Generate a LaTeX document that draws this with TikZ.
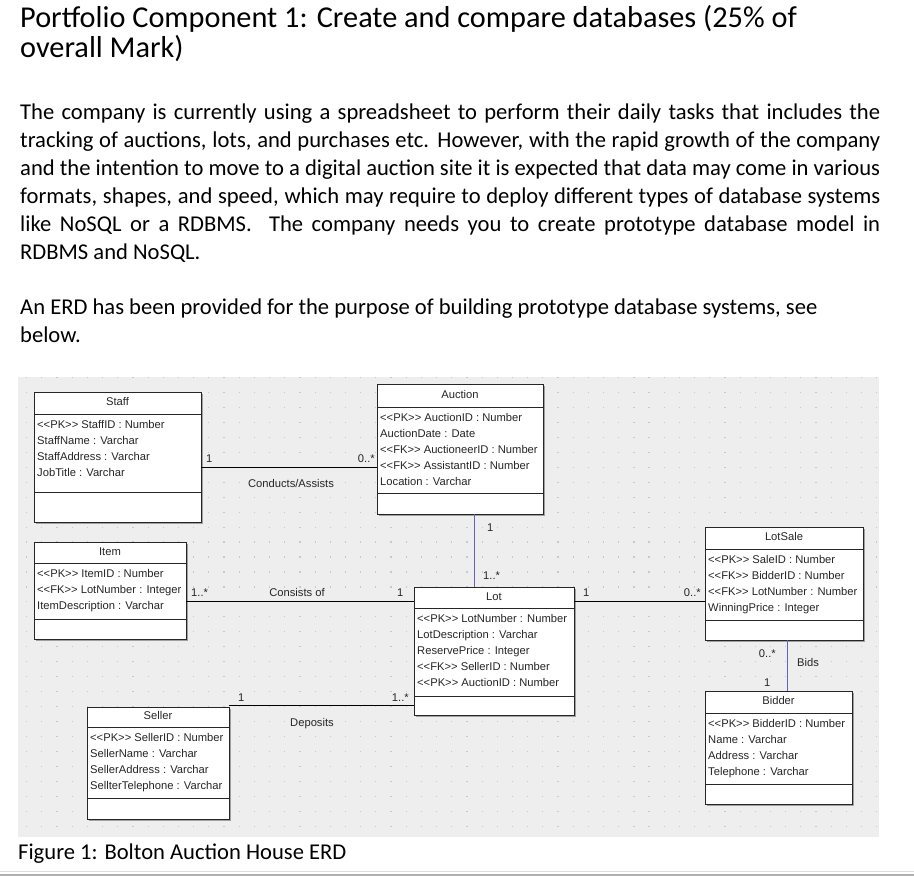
\documentclass[tikz,border=0pt]{standalone}
\usepackage{fontspec}
\setmainfont{Carlito}
\newfontfamily\erdfont{Liberation Sans}
\usetikzlibrary{calc}
\definecolor{bgc}{HTML}{EEEEEE}
\definecolor{dotc}{HTML}{C8C8C8}
\definecolor{linkc}{RGB}{100,100,190}
\definecolor{shadowc}{HTML}{A0A0A0}
\definecolor{rulelight}{HTML}{DCDCDC}
\definecolor{ruledark}{HTML}{B0B0B0}
\tikzset{
 entbox/.style={draw=black!85, fill=white, line width=0.9pt, inner sep=0pt, outer sep=0pt},
 entline/.style={draw=black!85, line width=0.9pt},
 enttext/.style={font=\erdfont\fontsize{11.2}{13}\selectfont, inner sep=0pt, text=black!85},
 conn/.style={draw=black, line width=0.9pt},
 vconn/.style={draw=linkc, line width=0.9pt},
 lbl/.style={font=\erdfont\fontsize{11.2}{13}\selectfont, inner sep=0pt, text=black!85},
 doctext/.style={inner sep=0pt, anchor=base west, font=\fontsize{22.6}{28}\selectfont},
 titletext/.style={inner sep=0pt, anchor=base west, font=\fontsize{30.3}{34}\selectfont},
}
% #1 name, #2 x left, #3 y top, #4 x right, #5 y header bottom, #6 y attr bottom, #7 y bottom, #8 title, #9 attributes
\newcommand\erdentity[9]{%
 \fill[shadowc] (#2+1.5,#3+1.5) rectangle (#4+1.5,#7+1.5);
 \node[entbox, minimum width=#4-#2, minimum height=#7-#3, anchor=north west] (#1) at (#2,#3) {};
 \draw[entline] (#2,#5) -- (#4,#5);
 \draw[entline] (#2,#6) -- (#4,#6);
 \node[enttext, anchor=base] (#1-t) at ({(#2+#4)/2},{(#3+#5)/2+2.5}) {#8};
 \foreach \a [count=\i] in {#9} {\node[enttext, anchor=base west] (#1-a\i) at (#2+3, #5+14+16*\i-16) {\a};}
}
\begin{document}
\begin{tikzpicture}[x=1pt,y=-1pt]
\useasboundingbox[fill=white] (0,0) rectangle (914,876);
% title
\node[titletext] (title1) at (20,27) {Portfolio Component 1: Create and compare databases (25\% of};
\node[titletext] (title2) at (20,57) {overall Mark)};
% body
\node[doctext] (p1) at (20,119) {\makebox[860pt][s]{The company is currently using a spreadsheet to perform their daily tasks that includes the}};
\node[doctext] (p2) at (20,147) {\makebox[860pt][s]{tracking of auctions, lots, and purchases etc. However, with the rapid growth of the company}};
\node[doctext] (p3) at (20,175) {\makebox[860pt][s]{and the intention to move to a digital auction site it is expected that data may come in various}};
\node[doctext] (p4) at (20,203) {\makebox[860pt][s]{formats, shapes, and speed, which may require to deploy different types of database systems}};
\node[doctext] (p5) at (20,231) {\makebox[860pt][s]{like NoSQL or a RDBMS.\ \ The company needs you to create prototype database model in}};
\node[doctext] (p6) at (20,259) {RDBMS and NoSQL.};
\node[doctext] (q1) at (20,314) {An ERD has been provided for the purpose of building prototype database systems, see};
\node[doctext] (q2) at (20,342) {below.};
% diagram background
\fill[bgc] (18,377) rectangle (879,837);
\foreach \i in {0,...,56} \foreach \j in {0,...,30} {\fill[dotc] (26.7+15.18*\i-0.6, 377.6+14.95*\j-0.6) rectangle ++(1.2,1.2);}
% entities
\erdentity{staff}{34}{392}{201}{414}{492}{522}{Staff}{{<<PK>> StaffID : Number},{StaffName : Varchar},{StaffAddress : Varchar},{JobTitle : Varchar}}
\erdentity{auction}{377}{384}{543}{407}{493}{514}{Auction}{{<<PK>> AuctionID : Number},{AuctionDate : Date},{<<FK>> AuctioneerID : Number},{<<FK>> AssistantID : Number},{Location : Varchar}}
\erdentity{item}{34}{542}{186}{563}{619}{639}{Item}{{<<PK>> ItemID : Number},{<<FK>> LotNumber : Integer},{ItemDescription : Varchar}}
\erdentity{lot}{414}{587}{574}{608}{696}{715}{Lot}{{<<PK>> LotNumber : Number},{LotDescription : Varchar},{ReservePrice : Integer},{<<FK>> SellerID : Number},{<<PK>> AuctionID : Number}}
\erdentity{lotsale}{705}{527}{863}{549}{620}{640}{LotSale}{{<<PK>> SaleID : Number},{<<FK>> BidderID : Number},{<<FK>> LotNumber : Number},{WinningPrice : Integer}}
\erdentity{seller}{87}{707}{229}{727}{798}{819}{Seller}{{<<PK>> SellerID : Number},{SellerName : Varchar},{SellerAddress : Varchar},{SellterTelephone : Varchar}}
\erdentity{bidder}{705}{691}{852}{713}{784}{804}{Bidder}{{<<PK>> BidderID : Number},{Name : Varchar},{Address : Varchar},{Telephone : Varchar}}
% connectors
\coordinate (c1) at ([yshift=-75pt]staff.north east);
\draw[conn] (c1) -- (c1 -| auction.west);
\coordinate (c2) at ([xshift=97pt]auction.south west);
\draw[vconn] (c2) -- (c2 |- lot.north);
\coordinate (c3) at ([yshift=-59pt]item.north east);
\draw[conn] (c3) -- (c3 -| lot.west);
\coordinate (c4) at ([yshift=-14pt]lot.north east);
\draw[conn] (c4) -- (c4 -| lotsale.west);
\coordinate (c5) at ([yshift=2pt]seller.north east);
\draw[conn] (c5) -- (c5 -| lot.west);
\coordinate (c6) at ([xshift=82pt]lotsale.south west);
\draw[vconn] (c6) -- (c6 |- bidder.north);
% labels
\node[lbl, anchor=base west] (l1a) at (206,462) {1};
\node[lbl, anchor=base east] (l1b) at (375,462) {0..*};
\node[lbl, anchor=base] (l1c) at (291,487) {Conducts/Assists};
\node[lbl, anchor=base west] (l2a) at (487,531) {1};
\node[lbl, anchor=base west] (l2b) at (483,579) {1..*};
\node[lbl, anchor=base west] (l3a) at (191,596) {1..*};
\node[lbl, anchor=base] (l3c) at (297,596) {Consists of};
\node[lbl, anchor=base west] (l3b) at (397,596) {1};
\node[lbl, anchor=base west] (l4a) at (583,596) {1};
\node[lbl, anchor=base east] (l4b) at (701,596) {0..*};
\node[lbl, anchor=base west] (l5a) at (238,701) {1};
\node[lbl, anchor=base east] (l5b) at (409,701) {1..*};
\node[lbl, anchor=base] (l5c) at (312,726) {Deposits};
\node[lbl, anchor=base east] (l6a) at (776,657) {0..*};
\node[lbl, anchor=base west] (l6c) at (797,666) {Bids};
\node[lbl, anchor=base west] (l6b) at (764,686) {1};
% caption
\node[doctext] (cap) at (18,859) {Figure 1: Bolton Auction House ERD};
\fill[rulelight] (0,870.5) rectangle (914,871.5);
\fill[ruledark] (0,874) rectangle (914,876);
\end{tikzpicture}
\end{document}
